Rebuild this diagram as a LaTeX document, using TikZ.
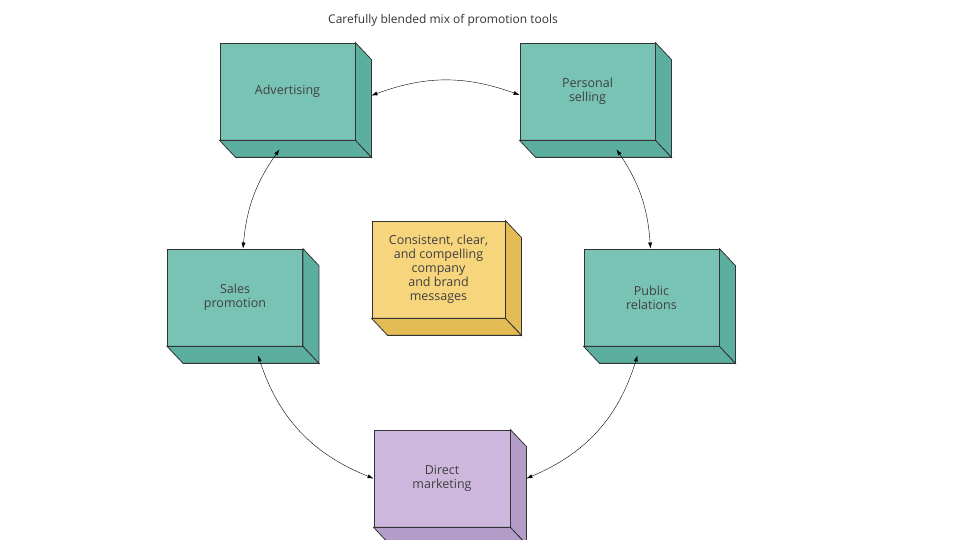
\documentclass[tikz,border=0pt]{standalone}
\usepackage{fontspec}
\setmainfont{Open Sans}
\usetikzlibrary{positioning,arrows.meta}

\definecolor{tealfront}{HTML}{79C3B5}
\definecolor{tealside}{HTML}{5CAE9F}
\definecolor{yelfront}{HTML}{F6D57C}
\definecolor{yelside}{HTML}{E3BC55}
\definecolor{lilfront}{HTML}{CDB7DD}
\definecolor{lilside}{HTML}{B49CC9}

% depth faces of a box, below and to the right of its front face
\newcommand{\boxdepth}[2]{%
  \draw[thick, draw=black!80, fill=#2]
    (#1.north east) -- ([shift={(16,-17)}]#1.north east)
    -- ([shift={(16,-17)}]#1.south east) -- (#1.south east) -- cycle;
  \draw[thick, draw=black!80, fill=#2]
    (#1.south west) -- ([shift={(16,-17)}]#1.south west)
    -- ([shift={(16,-17)}]#1.south east) -- (#1.south east) -- cycle;
}

\begin{document}
\begin{tikzpicture}[x=1pt, y=1pt]
\tikzstyle{box}=[rectangle, thick, draw=black!80, minimum width=135pt, minimum height=97pt,
  align=center, font=\fontsize{12.5}{14}\selectfont, text=black!75]
\tikzstyle{connect}=[{Latex[length=6pt,width=4pt]}-{Latex[length=6pt,width=4pt]}, thin]
\useasboundingbox (0,0) rectangle (960,540);
% 1. Title
%%%%%%%%%%
\node[font=\fontsize{12}{14}\selectfont, text=black!80] (title) at (443,520) {Carefully blended mix of promotion tools};
% 2. Boxes
%%%%%%%%%%
\node[box, fill=tealfront] (adv) at (287.5,448.5) {Advertising};
\node[box, fill=tealfront] (pers) at (587.5,448.5) {Personal\\selling};
\node[box, fill=tealfront] (sales) at (235,242.5) {Sales\\promotion};
\node[box, fill=tealfront] (pub) at (651.5,242.5) {Public\\relations};
\node[box, fill=yelfront, minimum width=133pt] (msg) at (438.5,270.5) {Consistent, clear,\\and compelling\\company\\and brand\\messages};
\node[box, fill=lilfront, minimum width=136pt] (direct) at (442,61.5) {Direct\\marketing};
\boxdepth{adv}{tealside}
\boxdepth{pers}{tealside}
\boxdepth{sales}{tealside}
\boxdepth{pub}{tealside}
\boxdepth{msg}{yelside}
\boxdepth{direct}{lilside}
% 3. Arrows
%%%%%%%%%%%
\path ([shift={(16,-4)}]adv.east)    edge [connect, bend left=20] ([yshift=-3.5pt]pers.west)
      ([shift={(-8,-9)}]adv.south)   edge [connect, bend right=15] ([xshift=8pt]sales.north)
      ([shift={(29,-9)}]pers.south)  edge [connect, bend left=15] ([xshift=-1pt]pub.north)
      ([shift={(23,-9)}]sales.south) edge [connect, bend right=25] ([yshift=0pt]direct.west)
      ([shift={(-14,-9)}]pub.south)  edge [connect, bend left=25] ([shift={(16,-0)}]direct.east);
\end{tikzpicture}
\end{document}
